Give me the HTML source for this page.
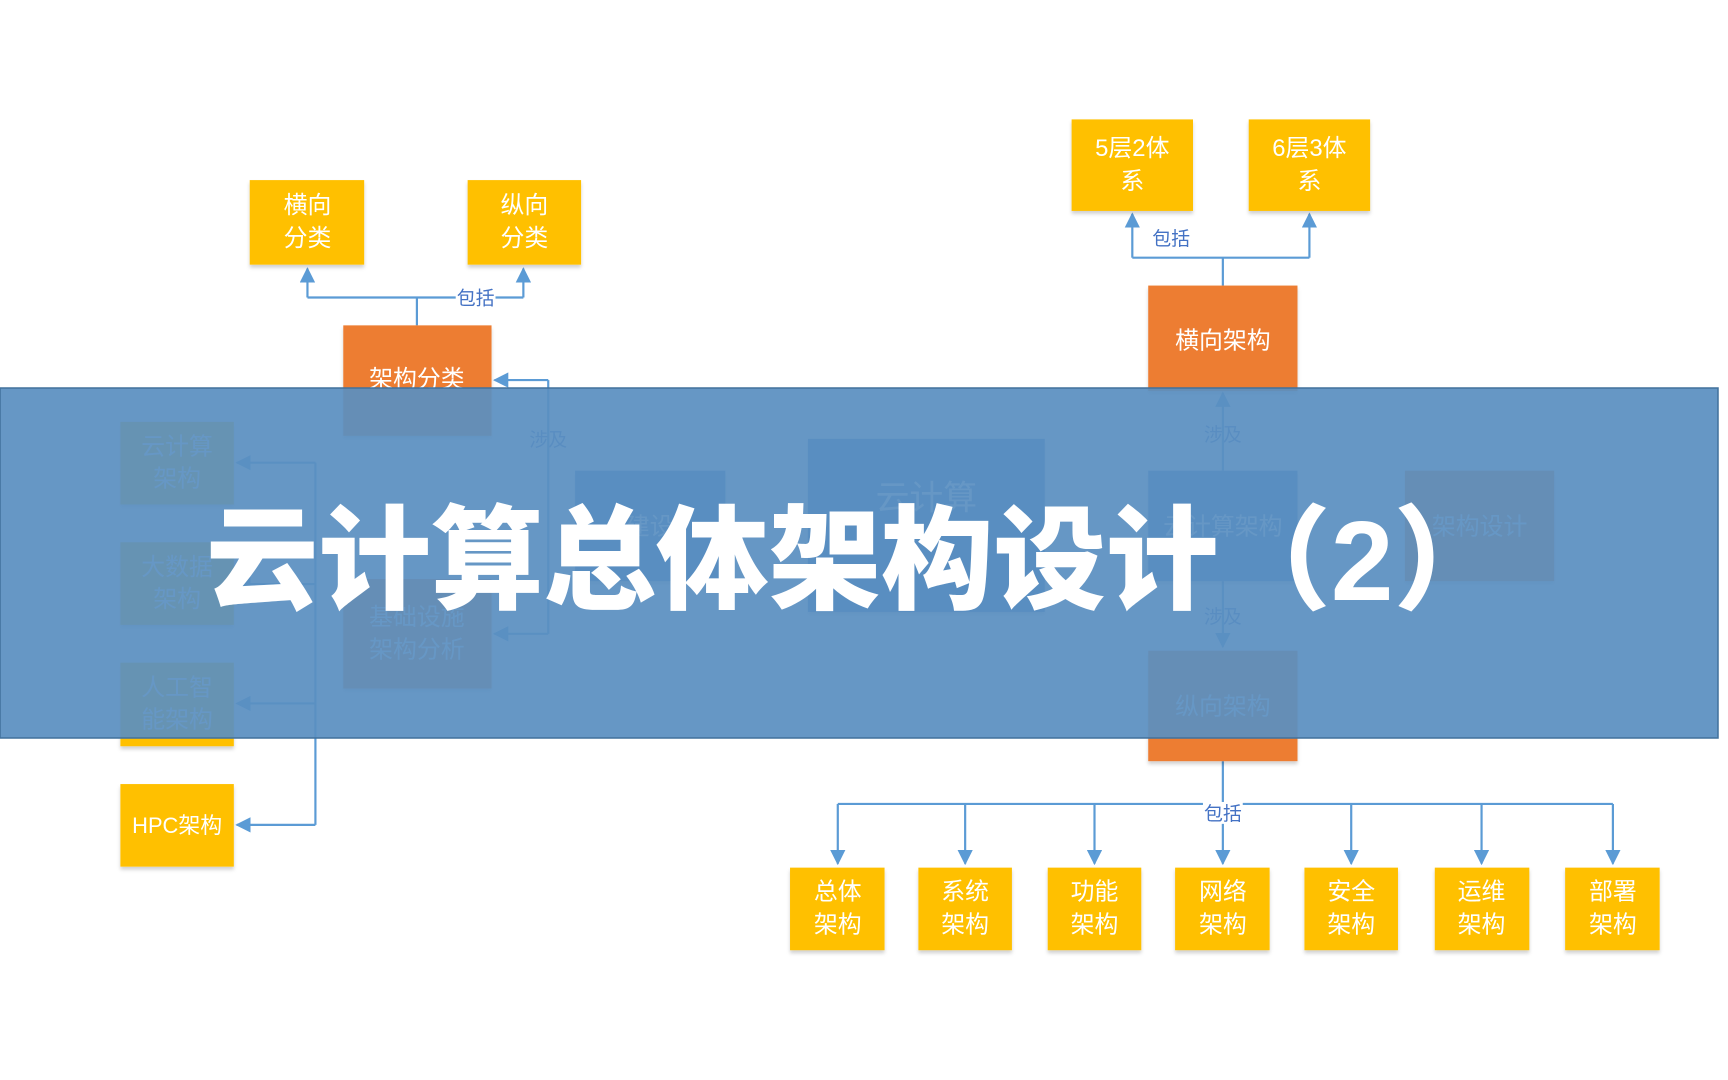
<!DOCTYPE html>
<html><head><meta charset="utf-8"><style>
html,body{margin:0;padding:0;background:#fff;}
svg{display:block;}
text{font-family:"Liberation Sans","Noto Sans CJK SC",sans-serif;}
</style></head><body>
<svg width="1728" height="1080" viewBox="0 0 1728 1080" xmlns="http://www.w3.org/2000/svg">
<defs>
<marker id="a" viewBox="0 0 10 10" refX="9" refY="5" markerWidth="7" markerHeight="7" orient="auto-start-reverse"><path d="M0,0L10,5L0,10z" fill="#5B9BD5"/></marker>
<filter id="s" x="-10%" y="-10%" width="130%" height="130%"><feDropShadow dx="0" dy="3" stdDeviation="2" flood-color="#000" flood-opacity="0.18"/></filter>
</defs>
<g transform="scale(0.995)">
<g fill="none" stroke="#5B9BD5" stroke-width="2.2">
<path d="M419,327V299"/>
<path d="M309,299H526"/>
<path d="M309,299V270" marker-end="url(#a)"/>
<path d="M526,299V270" marker-end="url(#a)"/>
<path d="M551,382H497" marker-end="url(#a)"/>
<path d="M551,382V637"/>
<path d="M551,637H497" marker-end="url(#a)"/>
<path d="M317,465V829"/>
<path d="M317,465H238" marker-end="url(#a)"/>
<path d="M317,587H238" marker-end="url(#a)"/>
<path d="M317,707H238" marker-end="url(#a)"/>
<path d="M317,829H238" marker-end="url(#a)"/>
<path d="M1229,287V259"/>
<path d="M1138,259H1316"/>
<path d="M1138,259V215" marker-end="url(#a)"/>
<path d="M1316,259V215" marker-end="url(#a)"/>
<path d="M1229,473V395" marker-end="url(#a)"/>
<path d="M1229,584V650" marker-end="url(#a)"/>
<path d="M1229,765V808"/>
<path d="M842,808H1621"/>
<path d="M842,808V868" marker-end="url(#a)"/><path d="M970,808V868" marker-end="url(#a)"/><path d="M1100,808V868" marker-end="url(#a)"/><path d="M1229,808V868" marker-end="url(#a)"/><path d="M1358,808V868" marker-end="url(#a)"/><path d="M1489,808V868" marker-end="url(#a)"/><path d="M1621,808V868" marker-end="url(#a)"/>
</g>
<g font-size="19" fill="#4472C4" text-anchor="middle">
<rect x="458" y="288" width="40" height="22" fill="#fff"/><text x="478" y="306">包括</text>
<rect x="1157" y="228" width="40" height="22" fill="#fff"/><text x="1177" y="246">包括</text>
<rect x="1209" y="806" width="40" height="22" fill="#fff"/><text x="1229" y="824">包括</text>
<text x="551" y="448">涉及</text><text x="1229" y="443">涉及</text><text x="1229" y="626">涉及</text>
</g>
<g filter="url(#s)">
<rect x="251" y="181" width="115" height="85" fill="#FFC000"/>
<rect x="470" y="181" width="114" height="85" fill="#FFC000"/>
<rect x="345" y="327" width="149" height="111" fill="#ED7D31"/>
<rect x="121" y="424" width="114" height="83" fill="#FFC000"/>
<rect x="121" y="545" width="114" height="83" fill="#FFC000"/>
<rect x="121" y="666" width="114" height="84" fill="#FFC000"/>
<rect x="121" y="788" width="114" height="83" fill="#FFC000"/>
<rect x="345" y="582" width="149" height="110" fill="#ED7D31"/>
<rect x="578" y="473" width="151" height="111" fill="#4a86c5"/>
<rect x="812" y="441" width="238" height="174" fill="#4a86c5"/>
<rect x="1154" y="473" width="150" height="111" fill="#4a86c5"/>
<rect x="1412" y="473" width="150" height="111" fill="#ED7D31"/>
<rect x="1154" y="287" width="150" height="106" fill="#ED7D31"/>
<rect x="1154" y="654" width="150" height="111" fill="#ED7D31"/>
<rect x="1077" y="120" width="122" height="92" fill="#FFC000"/>
<rect x="1255" y="120" width="122" height="92" fill="#FFC000"/>
<rect x="794" y="872" width="95" height="83" fill="#FFC000"/>
<rect x="923" y="872" width="94" height="83" fill="#FFC000"/>
<rect x="1053" y="872" width="94" height="83" fill="#FFC000"/>
<rect x="1181" y="872" width="95" height="83" fill="#FFC000"/>
<rect x="1311" y="872" width="94" height="83" fill="#FFC000"/>
<rect x="1442" y="872" width="95" height="83" fill="#FFC000"/>
<rect x="1573" y="872" width="95" height="83" fill="#FFC000"/>
</g>
<g font-size="24" fill="#fff" text-anchor="middle">
<text x="309" y="214">横向</text><text x="309" y="247">分类</text>
<text x="527" y="214">纵向</text><text x="527" y="247">分类</text>
<text x="419" y="389">架构分类</text>
<text x="178" y="457">云计算</text><text x="178" y="489">架构</text>
<text x="178" y="578">大数据</text><text x="178" y="610">架构</text>
<text x="178" y="699">人工智</text><text x="178" y="731">能架构</text>
<text x="178" y="837" font-size="22">HPC架构</text>
<text x="419" y="628">基础设施</text><text x="419" y="661">架构分析</text>
<text x="653" y="537">建设</text>
<text x="931" y="512" font-size="34">云计算</text>
<text x="1229" y="537">云计算架构</text>
<text x="1487" y="537">架构设计</text>
<text x="1229" y="350">横向架构</text>
<text x="1229" y="718">纵向架构</text>
<text x="1138" y="157">5层2体</text><text x="1138" y="190">系</text>
<text x="1316" y="157">6层3体</text><text x="1316" y="190">系</text>
<text x="842" y="904">总体</text><text x="842" y="937">架构</text>
<text x="970" y="904">系统</text><text x="970" y="937">架构</text>
<text x="1100" y="904">功能</text><text x="1100" y="937">架构</text>
<text x="1229" y="904">网络</text><text x="1229" y="937">架构</text>
<text x="1358" y="904">安全</text><text x="1358" y="937">架构</text>
<text x="1489" y="904">运维</text><text x="1489" y="937">架构</text>
<text x="1621" y="904">部署</text><text x="1621" y="937">架构</text>
</g>
</g>
<rect x="0" y="388" width="1718" height="350" fill="rgb(90,143,193)" fill-opacity="0.93" stroke="#41719C" stroke-width="1.5"/>
<text x="206" y="600" font-size="113" font-weight="900" fill="#fff" font-family="'Noto Sans CJK SC',sans-serif" textLength="1300" lengthAdjust="spacingAndGlyphs">云计算总体架构设计（2）</text>
</svg>
</body></html>
